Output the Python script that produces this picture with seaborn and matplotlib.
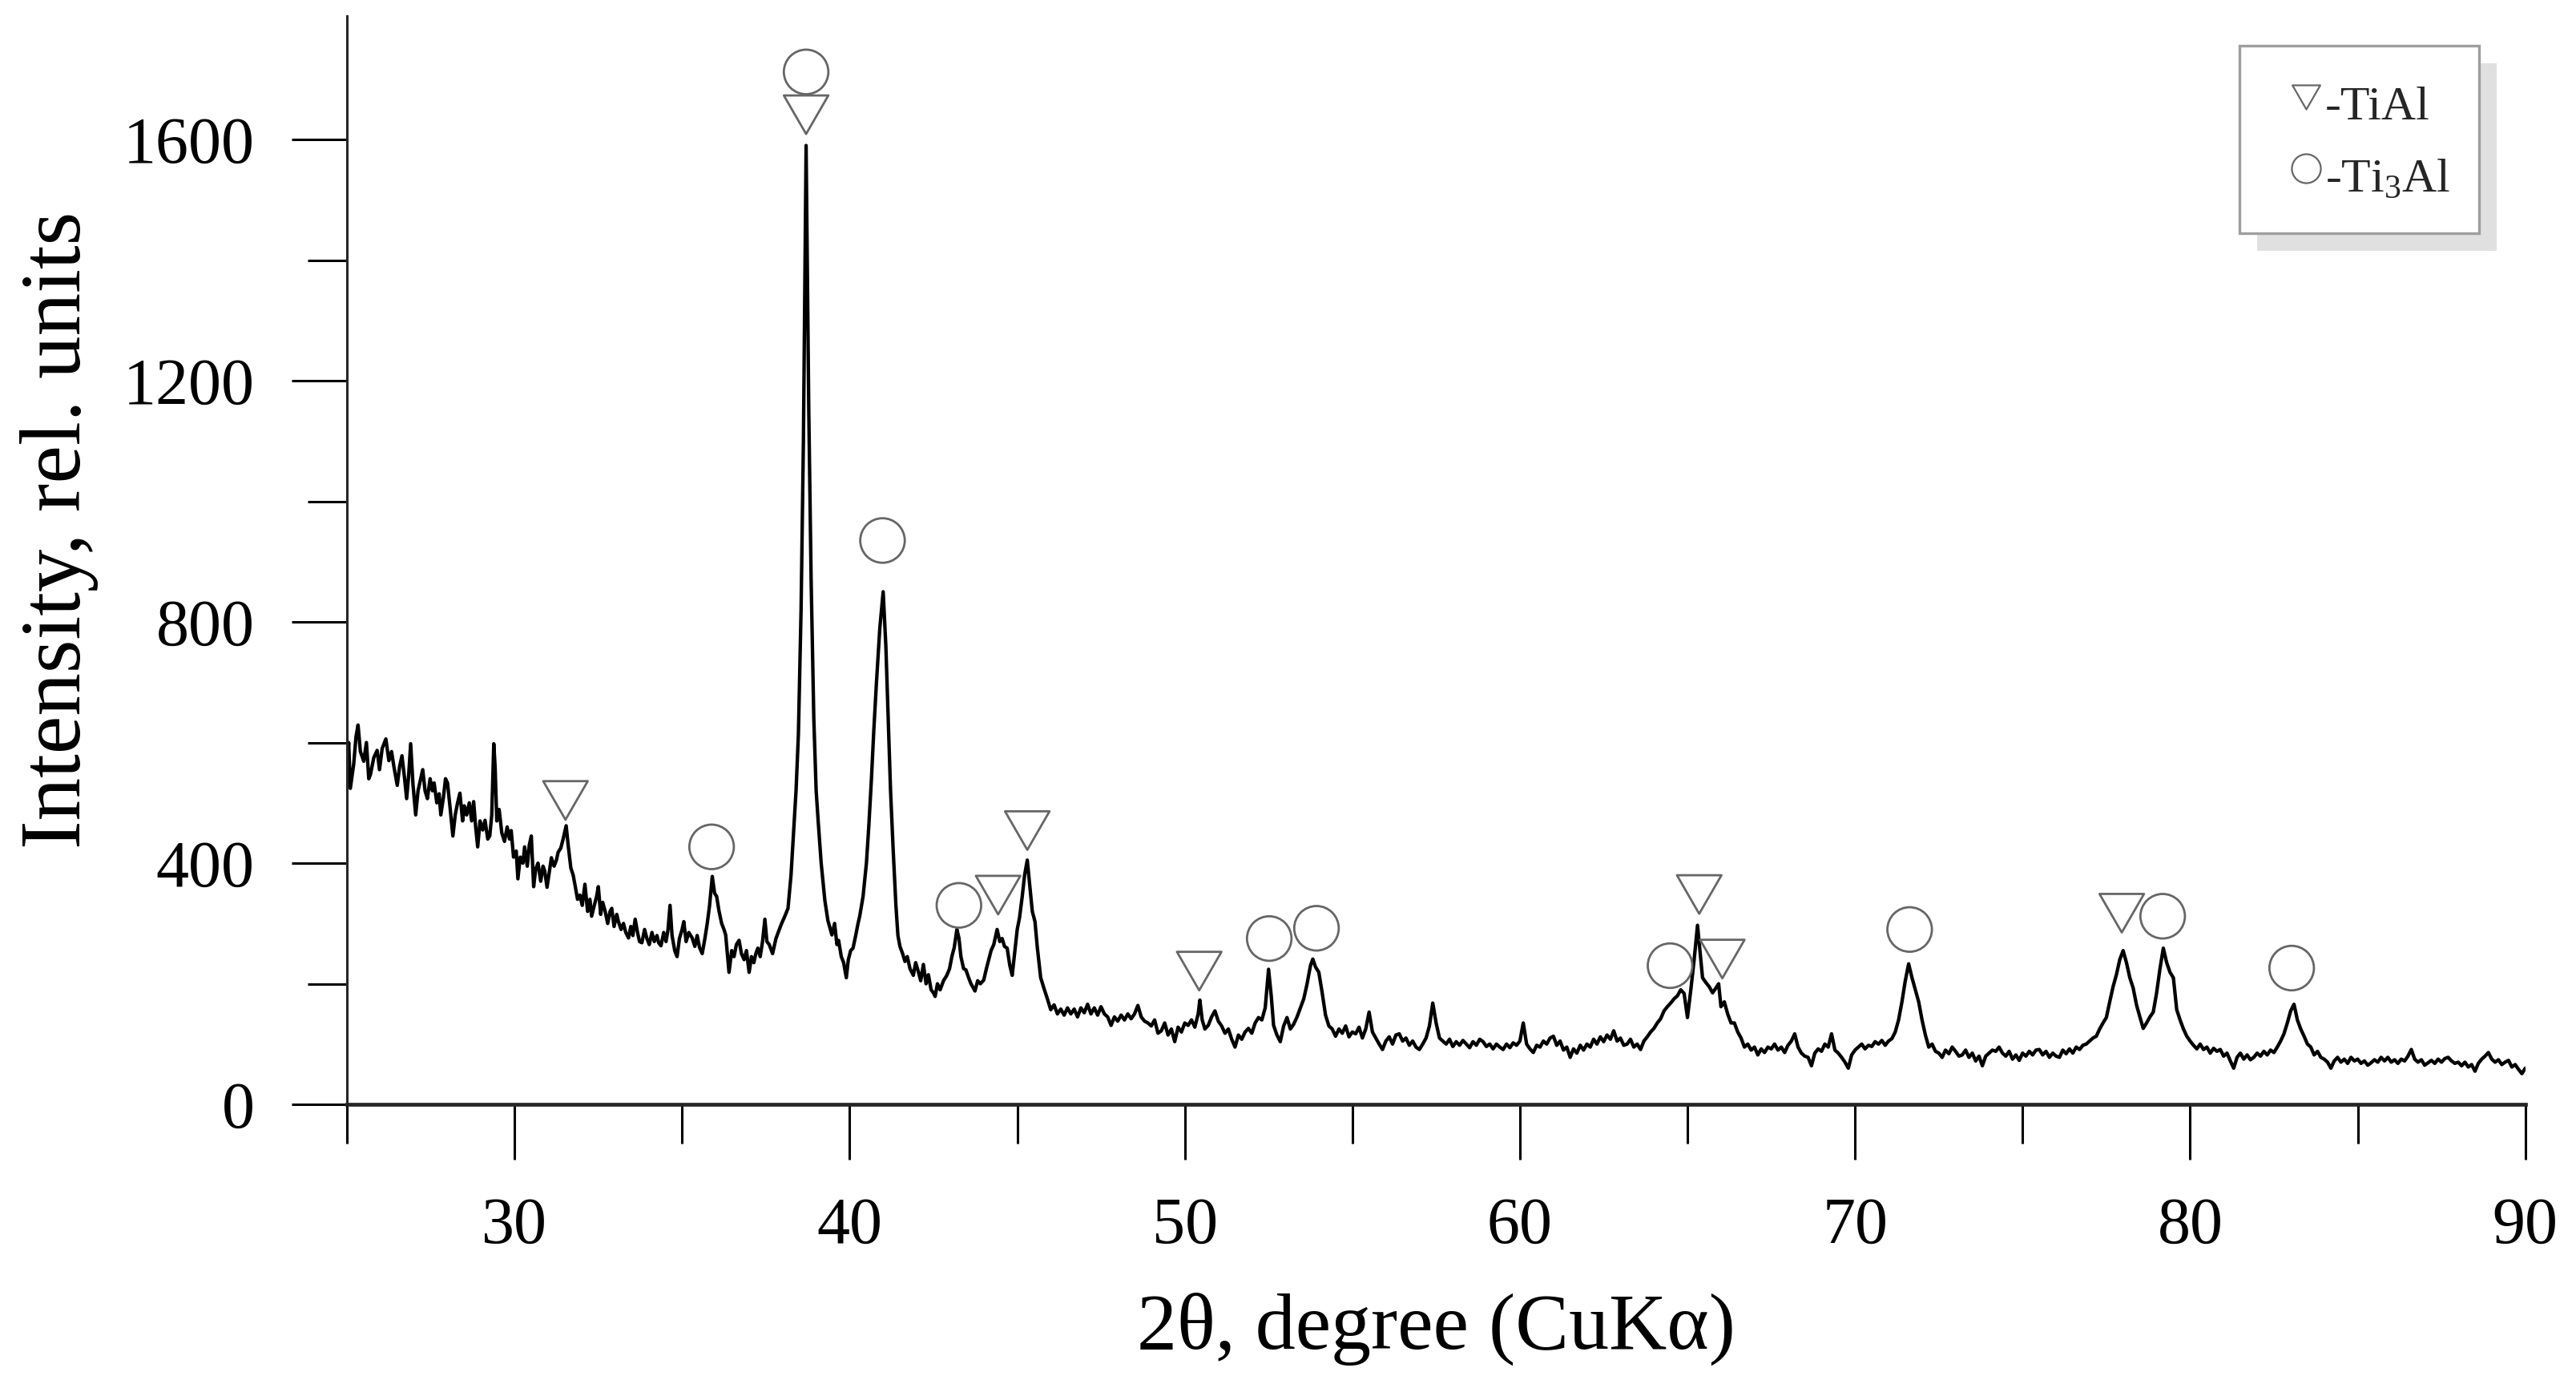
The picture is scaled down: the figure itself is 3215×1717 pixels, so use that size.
import numpy as np
import pandas as pd
import seaborn as sns
import matplotlib.pyplot as plt
from matplotlib.lines import Line2D
from matplotlib.patches import Rectangle
from matplotlib.path import Path
from matplotlib.transforms import IdentityTransform

# XRD scan, (2theta, intensity) pairs
scan_25_31 = [
    (25.00, 560), (25.05, 600), (25.10, 524), (25.20, 564), (25.27, 610), (25.33, 629),
    (25.40, 585), (25.50, 569), (25.58, 600), (25.65, 540), (25.70, 547), (25.80, 575),
    (25.90, 587), (25.97, 555), (26.05, 590), (26.16, 606), (26.25, 570), (26.33, 585),
    (26.40, 560), (26.50, 529), (26.57, 560), (26.64, 578), (26.72, 540), (26.78, 507),
    (26.84, 545), (26.90, 598), (26.97, 530), (27.05, 480), (27.12, 520), (27.20, 540),
    (27.26, 555), (27.33, 520), (27.40, 507), (27.48, 540), (27.55, 520), (27.60, 533),
    (27.68, 500), (27.75, 515), (27.80, 480), (27.88, 510), (27.94, 540), (28.00, 533),
    (28.08, 490), (28.16, 445), (28.23, 480), (28.30, 500), (28.37, 516), (28.45, 470),
    (28.50, 495), (28.57, 480), (28.65, 500), (28.72, 470), (28.78, 502), (28.84, 460),
    (28.90, 427), (28.97, 470), (29.05, 455), (29.12, 471), (29.20, 440), (29.26, 445),
    (29.32, 480), (29.38, 598), (29.42, 560), (29.47, 470), (29.54, 489), (29.62, 450),
    (29.70, 436), (29.78, 460), (29.85, 440), (29.90, 454), (29.97, 410), (30.05, 420),
    (30.10, 374), (30.17, 410), (30.25, 400), (30.30, 427), (30.38, 395), (30.44, 430),
    (30.50, 445), (30.57, 361), (30.63, 390), (30.70, 400), (30.78, 370), (30.85, 395),
    (30.90, 387), (30.97, 360),
]
scan_31_38 = [
    (31.05, 390), (31.10, 409), (31.18, 395), (31.25, 405), (31.30, 418), (31.38, 425),
    (31.45, 440), (31.54, 462), (31.60, 430), (31.68, 392), (31.75, 380), (31.80, 365),
    (31.88, 340), (31.95, 347), (32.02, 330), (32.10, 365), (32.18, 320), (32.25, 340),
    (32.30, 312), (32.38, 330), (32.45, 345), (32.50, 361), (32.57, 315), (32.63, 335),
    (32.70, 321), (32.78, 300), (32.85, 320), (32.90, 325), (32.97, 295), (33.05, 315),
    (33.10, 303), (33.18, 290), (33.25, 300), (33.32, 285), (33.40, 276), (33.47, 295),
    (33.53, 280), (33.60, 307), (33.67, 285), (33.73, 270), (33.80, 268), (33.88, 290),
    (33.95, 275), (34.02, 265), (34.10, 285), (34.17, 270), (34.25, 280), (34.30, 268),
    (34.37, 263), (34.45, 285), (34.52, 270), (34.58, 290), (34.64, 330), (34.70, 280),
    (34.78, 255), (34.85, 245), (34.92, 275), (35.00, 290), (35.05, 303), (35.12, 270),
    (35.20, 285), (35.30, 276), (35.38, 262), (35.45, 280), (35.52, 260), (35.60, 250),
    (35.68, 275), (35.75, 300), (35.82, 330), (35.90, 378), (35.97, 350), (36.03, 345),
    (36.10, 321), (36.18, 300), (36.25, 290), (36.30, 281), (36.35, 250), (36.40, 219),
    (36.48, 255), (36.55, 245), (36.62, 265), (36.70, 272), (36.77, 250), (36.85, 240),
    (36.92, 255), (37.00, 219), (37.07, 245), (37.14, 235), (37.20, 250), (37.26, 259),
    (37.33, 245), (37.40, 270), (37.47, 307), (37.53, 270), (37.60, 265), (37.70, 250),
    (37.80, 275), (37.90, 290), (37.97, 300),
]
scan_38_46 = [
    (38.05, 310), (38.16, 325), (38.25, 380), (38.32, 445), (38.40, 520), (38.47, 613),
    (38.55, 820), (38.62, 1100), (38.70, 1590), (38.78, 1150), (38.85, 870), (38.93, 640),
    (39.00, 520), (39.06, 470), (39.15, 400), (39.26, 338), (39.35, 305), (39.47, 281),
    (39.55, 300), (39.62, 265), (39.67, 272), (39.75, 245), (39.82, 235), (39.90, 210),
    (39.96, 240), (40.03, 255), (40.10, 259), (40.18, 280), (40.25, 300), (40.30, 312),
    (40.40, 345), (40.50, 400), (40.57, 460), (40.65, 540), (40.72, 620), (40.80, 700),
    (40.90, 790), (41.00, 850), (41.08, 760), (41.15, 640), (41.22, 520), (41.30, 420),
    (41.38, 330), (41.44, 280), (41.50, 262), (41.58, 250), (41.65, 237), (41.72, 245),
    (41.80, 225), (41.90, 214), (41.97, 235), (42.05, 220), (42.12, 205), (42.20, 232),
    (42.28, 200), (42.35, 215), (42.43, 190), (42.50, 185), (42.55, 179), (42.62, 200),
    (42.70, 190), (42.80, 205), (42.90, 214), (42.98, 225), (43.05, 245), (43.12, 260),
    (43.20, 290), (43.26, 276), (43.32, 245), (43.40, 225), (43.47, 223), (43.55, 210),
    (43.62, 200), (43.70, 192), (43.74, 188), (43.82, 205), (43.90, 200), (44.00, 206),
    (44.08, 225), (44.15, 240), (44.22, 255), (44.30, 265), (44.40, 290), (44.48, 270),
    (44.55, 275), (44.62, 262), (44.70, 259), (44.78, 230), (44.85, 214), (44.92, 250),
    (45.00, 290), (45.07, 310), (45.15, 345), (45.22, 380), (45.30, 405), (45.38, 360),
    (45.45, 320), (45.53, 303), (45.60, 260), (45.70, 210), (45.80, 192), (45.90, 175),
    (46.00, 157),
]
scan_46_56 = [
    (46.1, 165), (46.2, 150), (46.3, 158), (46.4, 148), (46.5, 160), (46.6, 150),
    (46.7, 158), (46.8, 145), (46.9, 160), (47.0, 152), (47.1, 166), (47.2, 150),
    (47.3, 160), (47.4, 148), (47.5, 162), (47.6, 150), (47.7, 145), (47.8, 131),
    (47.9, 145), (48.0, 138), (48.1, 148), (48.2, 140), (48.3, 150), (48.4, 142),
    (48.5, 150), (48.6, 164), (48.7, 145), (48.8, 138), (48.9, 135), (49.0, 130),
    (49.1, 140), (49.2, 118), (49.3, 122), (49.4, 135), (49.5, 115), (49.6, 125),
    (49.7, 104), (49.8, 128), (49.9, 120), (50.0, 135), (50.1, 131), (50.2, 140),
    (50.3, 128), (50.4, 150), (50.45, 173), (50.52, 140), (50.6, 125), (50.7, 131),
    (50.8, 145), (50.9, 155), (51.0, 138), (51.1, 130), (51.2, 118), (51.3, 125),
    (51.4, 108), (51.5, 95), (51.6, 115), (51.7, 108), (51.8, 120), (51.9, 126),
    (52.0, 118), (52.1, 135), (52.2, 144), (52.3, 140), (52.4, 160), (52.5, 224),
    (52.58, 180), (52.65, 131), (52.75, 115), (52.85, 104), (52.95, 130), (53.05, 144),
    (53.15, 125), (53.25, 133), (53.35, 145), (53.45, 160), (53.55, 175), (53.65, 200),
    (53.75, 230), (53.82, 241), (53.9, 228), (54.0, 219), (54.1, 185), (54.2, 148),
    (54.3, 130), (54.4, 125), (54.5, 113), (54.6, 125), (54.7, 118), (54.8, 130),
    (54.9, 112), (55.0, 120), (55.1, 117), (55.2, 128), (55.3, 110), (55.4, 125),
    (55.5, 153), (55.6, 120), (55.7, 110), (55.8, 100), (55.9, 91),
]
scan_56_67 = [
    (56.0, 105), (56.1, 112), (56.2, 100), (56.3, 115), (56.4, 117), (56.5, 105),
    (56.6, 110), (56.7, 98), (56.8, 105), (56.9, 95), (57.0, 91), (57.1, 100),
    (57.2, 110), (57.3, 130), (57.4, 168), (57.5, 135), (57.6, 110), (57.7, 105),
    (57.8, 100), (57.9, 108), (58.0, 96), (58.1, 104), (58.2, 98), (58.3, 106),
    (58.4, 100), (58.5, 94), (58.6, 104), (58.7, 98), (58.8, 108), (58.9, 104),
    (59.0, 96), (59.1, 100), (59.2, 92), (59.3, 100), (59.4, 95), (59.5, 91),
    (59.6, 100), (59.7, 94), (59.8, 102), (59.9, 98), (60.0, 105), (60.1, 135),
    (60.2, 100), (60.3, 92), (60.4, 86), (60.5, 98), (60.6, 95), (60.7, 105),
    (60.8, 100), (60.9, 110), (61.0, 113), (61.1, 98), (61.2, 105), (61.3, 90),
    (61.4, 95), (61.5, 78), (61.6, 92), (61.7, 85), (61.8, 98), (61.9, 90),
    (62.0, 100), (62.1, 95), (62.2, 108), (62.3, 100), (62.4, 112), (62.5, 104),
    (62.6, 115), (62.7, 108), (62.8, 122), (62.9, 105), (63.0, 110), (63.1, 98),
    (63.2, 100), (63.3, 108), (63.4, 95), (63.5, 100), (63.6, 91), (63.7, 105),
    (63.8, 112), (63.9, 120), (64.0, 126), (64.1, 135), (64.2, 142), (64.3, 155),
    (64.4, 162), (64.5, 168), (64.6, 175), (64.7, 180), (64.8, 190), (64.9, 184),
    (65.0, 144), (65.1, 190), (65.2, 240), (65.3, 297), (65.38, 250), (65.45, 210),
    (65.55, 202), (65.65, 195), (65.75, 185), (65.85, 193), (65.93, 200), (66.0, 162),
    (66.1, 170), (66.2, 150), (66.3, 135), (66.4, 135), (66.5, 120), (66.6, 110),
    (66.7, 95), (66.8, 100), (66.9, 90),
]
scan_67_78 = [
    (67.0, 95), (67.1, 82), (67.2, 92), (67.3, 86), (67.4, 95), (67.5, 92),
    (67.6, 100), (67.7, 90), (67.8, 95), (67.9, 86), (68.0, 98), (68.1, 105),
    (68.2, 117), (68.3, 95), (68.4, 85), (68.5, 80), (68.6, 78), (68.7, 64),
    (68.8, 85), (68.9, 92), (69.0, 88), (69.1, 100), (69.2, 95), (69.3, 117),
    (69.4, 90), (69.5, 85), (69.6, 78), (69.7, 70), (69.8, 60), (69.9, 82),
    (70.0, 90), (70.1, 95), (70.2, 100), (70.3, 92), (70.4, 98), (70.5, 96),
    (70.6, 104), (70.7, 100), (70.8, 106), (70.9, 98), (71.0, 105), (71.1, 109),
    (71.2, 120), (71.3, 140), (71.4, 170), (71.5, 205), (71.6, 233), (71.7, 210),
    (71.8, 190), (71.9, 170), (72.0, 140), (72.1, 115), (72.2, 95), (72.3, 100),
    (72.4, 88), (72.5, 85), (72.6, 78), (72.7, 90), (72.8, 84), (72.9, 95),
    (73.0, 88), (73.1, 80), (73.2, 82), (73.3, 90), (73.4, 78), (73.5, 85),
    (73.6, 72), (73.7, 80), (73.8, 64), (73.9, 80), (74.0, 85), (74.1, 90),
    (74.2, 88), (74.3, 95), (74.4, 85), (74.5, 80), (74.6, 88), (74.7, 75),
    (74.8, 82), (74.9, 73), (75.0, 85), (75.1, 80), (75.2, 88), (75.3, 82),
    (75.4, 90), (75.5, 91), (75.6, 82), (75.7, 88), (75.8, 78), (75.9, 85),
    (76.0, 80), (76.1, 78), (76.2, 90), (76.3, 84), (76.4, 92), (76.5, 85),
    (76.6, 95), (76.7, 91), (76.8, 98), (76.9, 100), (77.0, 105), (77.1, 110),
    (77.2, 113), (77.3, 125), (77.4, 135), (77.5, 144), (77.6, 170), (77.7, 195),
    (77.8, 215), (77.9, 240),
]
scan_78_90 = [
    (78.0, 255), (78.1, 235), (78.2, 210), (78.3, 193), (78.4, 165), (78.5, 145),
    (78.6, 126), (78.7, 135), (78.8, 145), (78.9, 153), (79.0, 185), (79.1, 225),
    (79.2, 259), (79.3, 235), (79.4, 219), (79.5, 210), (79.6, 157), (79.7, 140),
    (79.8, 125), (79.9, 113), (80.0, 105), (80.1, 98), (80.2, 92), (80.3, 100),
    (80.4, 91), (80.5, 95), (80.6, 85), (80.7, 93), (80.8, 88), (80.9, 91),
    (81.0, 80), (81.1, 85), (81.2, 72), (81.3, 60), (81.4, 78), (81.5, 85),
    (81.6, 75), (81.7, 82), (81.8, 74), (81.9, 78), (82.0, 85), (82.1, 80),
    (82.2, 88), (82.3, 82), (82.4, 90), (82.5, 86), (82.6, 95), (82.7, 105),
    (82.8, 117), (82.9, 135), (83.0, 155), (83.1, 166), (83.2, 140), (83.3, 125),
    (83.4, 113), (83.5, 100), (83.6, 95), (83.7, 82), (83.8, 88), (83.9, 78),
    (84.0, 75), (84.1, 70), (84.2, 60), (84.3, 72), (84.4, 78), (84.5, 70),
    (84.6, 75), (84.7, 68), (84.8, 78), (84.9, 72), (85.0, 75), (85.1, 68),
    (85.2, 72), (85.3, 65), (85.4, 69), (85.5, 74), (85.6, 70), (85.7, 78),
    (85.8, 72), (85.9, 78), (86.0, 70), (86.1, 74), (86.2, 68), (86.3, 75),
    (86.4, 72), (86.5, 80), (86.6, 91), (86.7, 75), (86.8, 70), (86.9, 74),
    (87.0, 65), (87.1, 69), (87.2, 73), (87.3, 68), (87.4, 75), (87.5, 70),
    (87.6, 76), (87.7, 78), (87.8, 72), (87.9, 68), (88.0, 70), (88.1, 64),
    (88.2, 70), (88.3, 62), (88.4, 66), (88.5, 55), (88.6, 68), (88.7, 75),
    (88.8, 80), (88.9, 86), (89.0, 75), (89.1, 70), (89.2, 74), (89.3, 66),
    (89.4, 70), (89.5, 73), (89.6, 62), (89.7, 66), (89.8, 58), (89.9, 51),
    (90.0, 60),
]

# phase marks: where each symbol sits
tial_2theta = [31.52, 38.70, 44.43, 45.30, 50.43, 65.35, 66.04, 77.96]
tial_level = [504, 1641, 347, 454, 221, 348, 241, 317]
ti3al_2theta = [35.88, 38.70, 40.98, 43.26, 52.52, 53.93, 64.48, 71.63, 79.18, 83.03]
ti3al_level = [427, 1712, 935, 330, 275, 292, 230, 290, 312, 226]

x_major = [30, 40, 50, 60, 70, 80, 90]
x_minor = [25, 35, 45, 55, 65, 75, 85]
y_major = [0, 400, 800, 1200, 1600]
y_minor = [200, 600, 1000, 1400]

segments = [scan_25_31, scan_31_38, scan_38_46, scan_46_56, scan_56_67, scan_67_78, scan_78_90]
scan = pd.DataFrame([p for seg in segments for p in seg], columns=["two_theta", "intensity"])

sns.set_theme(style="ticks")
plt.rcParams["font.family"] = ["Liberation Serif", "DejaVu Serif"]
plt.rcParams["mathtext.fontset"] = "custom"
plt.rcParams["mathtext.rm"] = "Liberation Serif"
plt.rcParams["mathtext.it"] = "Liberation Serif:italic"

fig = plt.figure(figsize=(32.15, 17.17), dpi=100)
ax = fig.add_axes([0.1347, 0.1974, 0.8456, 0.7911])

sns.lineplot(data=scan, x="two_theta", y="intensity", estimator=None, sort=False,
             color="black", lw=3.1, ax=ax)

# downward triangle, a bit flatter than matplotlib's 'v'
tri = Path([(-1, 0.866), (1, 0.866), (0, -0.866), (-1, 0.866)], closed=True)
mark_col = "0.4"
sns.scatterplot(x=tial_2theta, y=tial_level, marker=tri, s=1600, facecolor="none",
                edgecolor=mark_col, linewidth=2.0, ax=ax, zorder=3)
sns.scatterplot(x=ti3al_2theta, y=ti3al_level, marker="o", s=1600, facecolor="none",
                edgecolor=mark_col, linewidth=2.0, ax=ax, zorder=3)

ax.set_xlim(25, 90)
ax.set_ylim(0, 1805)
ax.set_xticks(x_major)
ax.set_xticks(x_minor, minor=True)
ax.set_yticks(y_major)
ax.set_yticks(y_minor, minor=True)
sns.despine(ax=ax)
ax.spines["left"].set_linewidth(2.2)
ax.spines["bottom"].set_linewidth(3.4)
ax.tick_params(which="major", direction="out", length=50, width=2.2, pad=33,
               labelsize=59, color="black", labelcolor="black")
ax.tick_params(which="minor", direction="out", length=35, width=2.2, color="black")

ax.set_xlabel("2θ, degree (CuKα)", fontsize=72, color="black")
ax.set_ylabel("Intensity, rel. units", fontsize=77, color="black")
ax.xaxis.set_label_coords(0.5, -0.2244)
ax.xaxis.label.set_va("baseline")
ax.yaxis.set_label_coords(-0.114, 0.5275)

handles = [
    Line2D([], [], ls="none", marker=tri, markersize=25, mfc="none", mec=mark_col, mew=1.6),
    Line2D([], [], ls="none", marker="o", markersize=26, mfc="none", mec=mark_col, mew=1.6),
]
leg = ax.legend(handles, ["-TiAl", "-Ti$_3$Al"], loc="upper right",
                bbox_to_anchor=(3094 / 3215, 1 - 57 / 1717), bbox_transform=fig.transFigure,
                borderaxespad=0, fontsize=43, frameon=True, fancybox=False, framealpha=1,
                edgecolor="0.62", borderpad=0.6, handlelength=1.58, handletextpad=-0.39,
                handleheight=1.5, labelspacing=0.28)
leg.get_frame().set_linewidth(2.4)
leg.set_zorder(6)

# offset grey shadow behind the legend box
fig.canvas.draw()
bb = leg.get_window_extent()
ax.add_patch(Rectangle((bb.x0 + 22, bb.y0 - 22), bb.width, bb.height, transform=IdentityTransform(),
                       facecolor="0.88", edgecolor="none", clip_on=False, zorder=5))

fig.savefig("out.png", dpi=100)
